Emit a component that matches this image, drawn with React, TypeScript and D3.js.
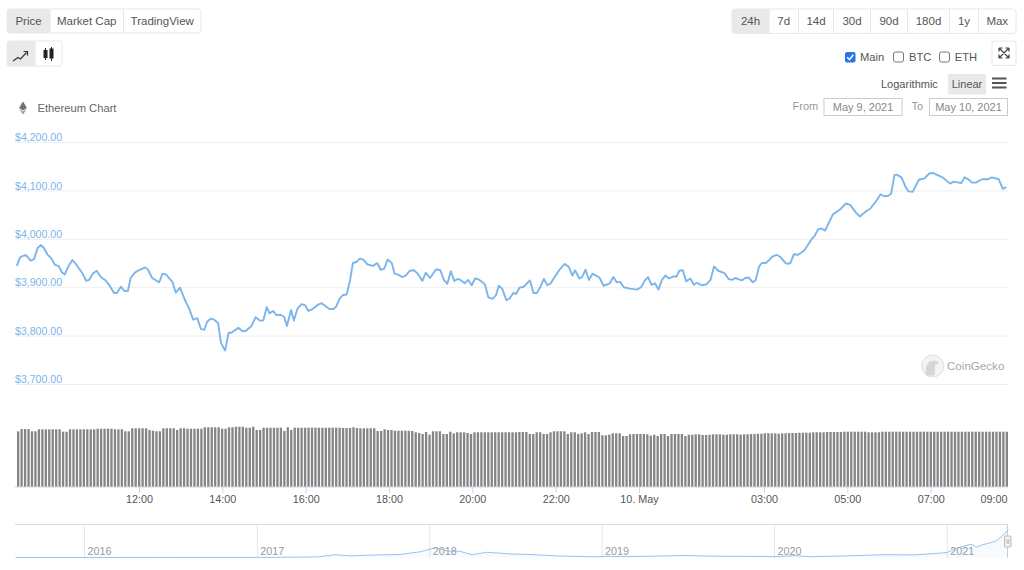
import * as d3 from "d3";
import { useEffect, useRef } from "react";

// minutes after midnight, May 9 (UTC so the sandbox timezone does not matter)
const priceMinutes = [
  544, 549, 555, 558, 564, 569, 574, 579, 583, 588, 594, 599, 604, 609, 613, 618, 624, 629, 638, 644, 648, 654, 659, 665, 671, 676, 684, 688, 694, 699,
  704, 708, 714, 721, 729, 733, 739, 749, 754, 759, 768, 773, 779, 786, 793, 798, 804, 809, 814, 818, 823, 828, 834, 838, 844, 849, 853, 863, 869, 874,
  882, 888, 894, 899, 904, 908, 913, 918, 924, 929, 933, 939, 943, 948, 954, 959, 964, 969, 978, 983, 994, 1000, 1004, 1009, 1014, 1019, 1024, 1028, 1033, 1038,
  1043, 1049, 1057, 1063, 1068, 1073, 1078, 1084, 1088, 1093, 1099, 1104, 1110, 1116, 1122, 1128, 1133, 1139, 1148, 1154, 1159, 1164, 1169, 1174, 1179, 1184, 1189, 1194, 1199, 1204,
  1208, 1213, 1218, 1223, 1229, 1234, 1238, 1243, 1249, 1254, 1259, 1263, 1268, 1274, 1283, 1288, 1293, 1298, 1303, 1308, 1313, 1319, 1326, 1333, 1339, 1344, 1348, 1354, 1358, 1363,
  1368, 1373, 1383, 1389, 1398, 1403, 1408, 1413, 1418, 1427, 1437, 1443, 1448, 1453, 1458, 1463, 1468, 1473, 1478, 1483, 1489, 1494, 1498, 1503, 1508, 1514, 1519, 1523, 1531, 1537,
  1543, 1548, 1554, 1563, 1569, 1574, 1579, 1588, 1593, 1598, 1604, 1608, 1613, 1617, 1623, 1628, 1632, 1638, 1643, 1651, 1654, 1658, 1663, 1669, 1678, 1689, 1693, 1698, 1703, 1708,
  1719, 1729, 1738, 1744, 1753, 1758, 1768, 1773, 1781, 1788, 1793, 1799, 1803, 1808, 1812, 1818, 1824, 1828, 1834, 1843, 1851, 1858, 1863, 1877, 1888, 1893, 1904, 1909, 1913, 1920,
  1925, 1934, 1942, 1948, 1958, 1964, 1969,
];
const prices = [
  3944, 3962, 3966, 3965, 3955, 3958, 3981, 3987, 3981, 3968, 3959, 3946, 3944, 3931, 3926, 3942, 3956, 3948, 3930, 3913, 3915, 3929, 3934, 3921, 3915, 3907, 3888, 3888, 3901, 3892,
  3892, 3919, 3930, 3936, 3941, 3936, 3919, 3910, 3928, 3926, 3911, 3889, 3899, 3874, 3853, 3833, 3836, 3814, 3812, 3828, 3835, 3833, 3826, 3785, 3769, 3806, 3806, 3816, 3809, 3810,
  3820, 3838, 3831, 3831, 3859, 3846, 3851, 3842, 3843, 3839, 3820, 3853, 3831, 3855, 3865, 3863, 3851, 3854, 3864, 3867, 3855, 3855, 3860, 3877, 3884, 3885, 3915, 3950, 3952, 3959,
  3957, 3947, 3944, 3950, 3936, 3938, 3957, 3950, 3928, 3926, 3921, 3924, 3934, 3935, 3927, 3913, 3930, 3919, 3937, 3935, 3915, 3907, 3933, 3913, 3917, 3914, 3908, 3915, 3904, 3918,
  3917, 3912, 3906, 3879, 3876, 3883, 3903, 3897, 3873, 3877, 3888, 3886, 3899, 3901, 3914, 3888, 3888, 3901, 3917, 3904, 3908, 3922, 3937, 3948, 3942, 3924, 3935, 3918, 3921, 3936,
  3915, 3928, 3920, 3903, 3908, 3921, 3910, 3911, 3900, 3897, 3895, 3900, 3913, 3921, 3905, 3908, 3895, 3915, 3924, 3918, 3922, 3922, 3934, 3935, 3912, 3918, 3905, 3909, 3904, 3906,
  3915, 3943, 3934, 3929, 3917, 3915, 3919, 3914, 3919, 3920, 3910, 3915, 3943, 3950, 3950, 3957, 3963, 3967, 3963, 3950, 3948, 3950, 3968, 3967, 3976, 4000, 4006, 4020, 4021, 4017,
  4050, 4060, 4073, 4070, 4053, 4046, 4058, 4062, 4077, 4092, 4088, 4089, 4093, 4132, 4132, 4127, 4107, 4098, 4097, 4122, 4125, 4135, 4136, 4127, 4114, 4118, 4115, 4127, 4124, 4116,
  4116, 4123, 4123, 4127, 4123, 4103, 4107,
];
const priceTicks = [4200, 4100, 4000, 3900, 3800, 3700];

// 24h volume per 5 minute sample, $ billions
const volumes = [
  55.7, 58, 58, 58, 55.7, 55.7, 57.7, 57.7, 57.7, 57.7, 57.7, 57.7, 57.7, 55.3, 55.3, 57.7, 57.7, 57.7, 57.7, 57.7, 57.7, 57.7, 57.7, 58.3, 58.3, 58.3, 58.3, 58.3, 57.7, 57.7,
  57.7, 55.7, 55.7, 58.7, 58.7, 58.7, 58.7, 58.7, 57, 56.3, 55.7, 55.7, 58.7, 58.7, 58.7, 58.7, 57, 58.7, 58.7, 58.3, 58.3, 58.3, 58.3, 58.3, 59.7, 59.7, 59.7, 59.7, 59.7, 58.3,
  58.3, 59.7, 59.7, 60.3, 60.3, 60.3, 59.3, 59.3, 60.3, 57, 57, 59.3, 59.3, 59.3, 59.3, 59.3, 59.3, 56, 59.7, 57, 59.3, 59.3, 59.3, 59.3, 59.3, 59.3, 59.3, 59.3, 59.3, 59.3,
  59.3, 59.3, 59.3, 59.3, 59, 59,
  59, 59.7, 59, 58.7, 58.7, 58.7, 58.7, 58.7, 56, 56, 57.7, 57, 57, 56.3, 56.3, 56.3, 56.3, 56.3, 56, 54.7, 54, 53, 55, 52.3, 55.7, 55.7, 55.7, 53, 53, 55.3,
  53.7, 54.7, 54.7, 54.7, 54, 53, 54.7, 54.7, 54.7, 54.7, 54.7, 54.7, 54.7, 54.7, 54.7, 54.7, 54.7, 54.7, 54.7, 55, 55, 55, 53, 53, 54.7, 54.7, 53, 53, 54.7, 55.7,
  55.7, 55.7, 55.7, 53, 54.7, 54.7, 53, 53.7, 54.7, 53, 55, 55, 55, 51.7, 51.7, 52.3, 53.7, 53.7, 53.7, 51, 51, 52.7, 53, 53, 53, 53, 52.7, 51.3, 52.3, 51,
  53, 53, 51, 53, 53, 53, 53, 51,
  52.3, 52.3, 52.7, 52.7, 52, 52, 52.3, 52.7, 52.7, 52.7, 52.3, 52.3, 52.7, 52.7, 52.7, 52.3, 52.7, 52.7, 53, 53, 53.3, 53.3, 53.7, 53.7, 53.7, 53.7, 53.3, 53.7, 53.7, 54,
  54, 54, 54.3, 54.3, 54.3, 54.3, 54.7, 54.7, 54.7, 54.7, 55, 55, 55, 55, 55, 55.3, 55.3, 55.3, 55.3, 55.3, 55.3, 55.3, 54.7, 54.7, 54.7, 54.7, 55.3, 55.3, 55.3, 55.3,
  55.3, 55.3, 55.3, 55.3, 55.3, 55.3, 55.3, 55.3, 55.3, 55.3, 55.3, 55.3, 55.3, 55.3, 55.3, 55.3, 55.3, 55.3, 55.3, 55.3, 55.3, 55.3, 55.3, 55.3, 55.3, 55.3, 55.3, 55.3, 55.3, 55.3,
  55.3, 55.3, 55.3,
];

const timeTickHours = [12, 14, 16, 18, 20, 22, 24, 27, 29, 31, 33];
const timeTickLabels = ["12:00", "14:00", "16:00", "18:00", "20:00", "22:00", "10. May", "03:00", "05:00", "07:00", "09:00"];

// navigator: whole price history
const historyDates = [
  "2015-08-08", "2016-01-01", "2016-06-15", "2017-01-01", "2017-03-15", "2017-05-10", "2017-06-15", "2017-07-15", "2017-09-01", "2017-11-01", "2017-12-10", "2018-01-13",
  "2018-02-10", "2018-03-05", "2018-04-01", "2018-05-01", "2018-06-25", "2018-08-01", "2018-10-01", "2018-12-15", "2019-01-01", "2019-04-01", "2019-06-25", "2019-08-15",
  "2020-01-01", "2020-02-15", "2020-03-15", "2020-05-15", "2020-08-20", "2020-10-25", "2020-12-20", "2021-01-01", "2021-01-20", "2021-02-20", "2021-03-05", "2021-03-15",
  "2021-04-01", "2021-04-15", "2021-05-01", "2021-05-10",
];
const historyPrices = [
  1, 1, 15, 10, 40, 90, 400, 230, 350, 450, 800, 1400, 900, 900, 400, 750, 500, 430, 220, 100, 140, 160, 300, 200, 130, 260, 120, 200, 400, 380, 650, 740, 1350, 1900, 1500, 1800,
  2100, 2400, 3300, 4100,
];
const historyYears = [2016, 2017, 2018, 2019, 2020, 2021];

const chartTabs = ["Price", "Market Cap", "TradingView"];
const rangeTabs = ["24h", "7d", "14d", "30d", "90d", "180d", "1y", "Max"];
const compareBoxes = ["Main", "BTC", "ETH"];

const FONT = "'Liberation Sans', Arial, sans-serif";
const minuteDate = (m: number) => new Date(Date.UTC(2021, 4, 9, 0, m));

function Tabs({ labels, edges, y, h, size = 11.5 }: { labels: string[]; edges: number[]; y: number; h: number; size?: number }) {
  return (
    <g fontSize={size} fill="#555" textAnchor="middle">
      <rect x={edges[0]} y={y} width={edges[edges.length - 1] - edges[0]} height={h} rx={3} fill="#fff" stroke="#e8e8e8" />
      <rect x={edges[0]} y={y} width={edges[1] - edges[0]} height={h} rx={2} fill="#e9e9e9" />
      {edges.slice(1, -1).map((e) => (
        <line key={e} x1={e} x2={e} y1={y} y2={y + h} stroke="#e8e8e8" />
      ))}
      {labels.map((l, i) => (
        <text key={l} x={(edges[i] + edges[i + 1]) / 2} y={y + h / 2 + 4}>
          {l}
        </text>
      ))}
    </g>
  );
}

export default function App() {
  const ref = useRef<SVGGElement | null>(null);

  useEffect(() => {
    const g = d3.select(ref.current);
    g.selectAll("*").remove();

    const left = 15;
    const right = 1008;

    // price panel
    const x = d3
      .scaleUtc()
      .domain([minuteDate(720), minuteDate(1440)])
      .range([139, 639]);
    const y = d3.scaleLinear().domain([3700, 4200]).range([384, 142]);

    const yAxis = g
      .append("g")
      .attr("transform", `translate(${left},0)`)
      .call(
        d3
          .axisLeft(y)
          .tickValues(priceTicks)
          .tickSize(-(right - left))
          .tickFormat((d) => d3.format("$,.2f")(d as number)),
      );
    yAxis.select(".domain").remove();
    yAxis.selectAll("line").attr("stroke", "#eeeeee");
    yAxis
      .selectAll("text")
      .attr("x", 0)
      .attr("dy", "-0.12em")
      .attr("text-anchor", "start")
      .attr("fill", "#7cb5ec")
      .attr("font-size", 10.6)
      .attr("font-family", FONT);

    const line = d3
      .line<number>()
      .x((_, i) => x(minuteDate(priceMinutes[i])))
      .y((d) => y(d));
    g.append("path")
      .datum(prices)
      .attr("d", line)
      .attr("fill", "none")
      .attr("stroke", "#7cb5ec")
      .attr("stroke-width", 1.9)
      .attr("stroke-linejoin", "round");

    // volume bars
    const vx = d3
      .scaleBand<number>()
      .domain(d3.range(volumes.length))
      .range([17, right])
      .paddingInner(0.33);
    const vy = d3.scaleLinear().domain([0, 60]).range([487, 427]);
    g.append("g")
      .selectAll("rect")
      .data(volumes)
      .enter()
      .append("rect")
      .attr("x", (_, i) => vx(i) as number)
      .attr("y", (d) => vy(d))
      .attr("width", vx.bandwidth())
      .attr("height", (d) => vy(0) - vy(d))
      .attr("fill", "#858585");

    g.append("line")
      .attr("x1", left)
      .attr("x2", right)
      .attr("y1", 487)
      .attr("y2", 487)
      .attr("stroke", "#ccd6eb");

    const xAxis = g
      .append("g")
      .attr("transform", "translate(0,487)")
      .call(
        d3
          .axisBottom(x)
          .tickValues(timeTickHours.map((h) => minuteDate(h * 60)))
          .tickSize(6)
          .tickFormat((_, i) => timeTickLabels[i]),
      );
    xAxis.select(".domain").remove();
    xAxis.selectAll("line").attr("stroke", "#ccd6eb");
    xAxis
      .selectAll("text")
      .attr("y", 8)
      .attr("fill", "#555")
      .attr("font-size", 10.8)
      .attr("font-family", FONT);
    // last tick falls past the plot, its label gets pushed back inside
    const lastTick = xAxis.selectAll(".tick").filter((_, i) => i === timeTickHours.length - 1);
    lastTick.select("line").remove();
    lastTick.select("text").attr("dx", -20.5);

    // navigator
    const nx = d3
      .scaleUtc()
      .domain([new Date(Date.UTC(2016, 0, 1)), new Date(Date.UTC(2021, 0, 1))])
      .range([84.5, 947.3]);
    const ny = d3.scaleLinear().domain([0, 4100]).range([557.5, 529]);
    const parse = d3.utcParse("%Y-%m-%d");
    const history = historyDates.map((d) => parse(d) as Date);

    g.append("line")
      .attr("x1", left)
      .attr("x2", right)
      .attr("y1", 524.5)
      .attr("y2", 524.5)
      .attr("stroke", "#dcdcdc");

    const yearGroup = g
      .append("g")
      .selectAll("g")
      .data(historyYears)
      .enter()
      .append("g")
      .attr("transform", (d) => `translate(${nx(new Date(Date.UTC(d, 0, 1)))},0)`);
    yearGroup.append("line").attr("y1", 525).attr("y2", 558).attr("stroke", "#e6e6e6");
    yearGroup
      .append("text")
      .attr("x", 3)
      .attr("y", 554.5)
      .attr("fill", "#999")
      .attr("font-size", 10.8)
      .attr("font-family", FONT)
      .text((d) => d);

    const area = d3
      .area<number>()
      .x((_, i) => nx(history[i]))
      .y0(ny(0))
      .y1((d) => ny(d));
    g.append("path").datum(historyPrices).attr("d", area).attr("fill", "#7cb5ec").attr("fill-opacity", 0.06);
    g.append("path")
      .datum(historyPrices)
      .attr("d", area.lineY1())
      .attr("fill", "none")
      .attr("stroke", "#7cb5ec")
      .attr("stroke-width", 0.8);

    // right hand handle of the navigator
    g.append("line").attr("x1", 1007.5).attr("x2", 1007.5).attr("y1", 525).attr("y2", 558).attr("stroke", "#cfcfcf");
    g.append("rect")
      .attr("x", 1004.5)
      .attr("y", 536)
      .attr("width", 6.5)
      .attr("height", 11)
      .attr("rx", 1)
      .attr("fill", "#f2f2f2")
      .attr("stroke", "#bbb");
    g.append("path").attr("d", "M1007 539v5M1008.8 539v5").attr("stroke", "#bbb").attr("fill", "none");
  }, []);

  return (
    <svg width={1024} height={570} style={{ position: "absolute", left: 0, top: 0 }} fontFamily={FONT}>
      <rect width={1024} height={570} fill="#fff" />

      <Tabs labels={chartTabs} edges={[7, 50, 123.5, 201]} y={9} h={24} />
      <Tabs labels={["", ""]} edges={[7, 35, 62]} y={41} h={25} />
      <path d="M13 61l5-3.5 2.500 1.500 6-6.500M23.500 51.500h4v4" fill="none" stroke="#333" strokeWidth={1.2} />
      <g fill="#222">
        <rect x={43.5} y={50} width={4} height={8} />
        <rect x={49.5} y={48.5} width={4} height={10} />
        <path d="M45.500 48v12M51.500 47v14" stroke="#222" />
      </g>

      <path d="M23 101.500l4 6.500-4 2.500-4-2.500z" fill="#6f6f78" />
      <path d="M19.200 109l3.800 2.400 3.800-2.400-3.800 5.500z" fill="#9a9aa2" />
      <text x={37.5} y={112} fontSize={11.2} fill="#666">
        Ethereum Chart
      </text>

      <Tabs labels={rangeTabs} edges={[732, 769, 798.5, 833.5, 870.5, 907.5, 949.5, 978.5, 1016]} y={9} h={24.5} />

      <rect x={992} y={41} width={24} height={24.5} rx={2} fill="#fff" stroke="#e8e8e8" />
      <path
        d="M999.500 48.500l9 9M1008.500 48.500l-9 9M999 48h3.500M999 48v3.500M1009 48h-3.500M1009 48v3.500M999 58h3.500M999 58v-3.500M1009 58h-3.500M1009 58v-3.500"
        stroke="#444"
        strokeWidth={1.2}
        fill="none"
      />

      <rect x={845} y={52} width={10.5} height={10.5} rx={2} fill="#2a75e6" />
      <path d="M847.200 57.200l2.300 2.500 3.800-5" fill="none" stroke="#fff" strokeWidth={1.5} />
      <rect x={893.5} y={52} width={10} height={10} rx={2} fill="#fff" stroke="#777" />
      <rect x={939.5} y={52} width={10} height={10} rx={2} fill="#fff" stroke="#777" />
      <g fontSize={11.2} fill="#555">
        <text x={860} y={61}>
          {compareBoxes[0]}
        </text>
        <text x={909} y={61}>
          {compareBoxes[1]}
        </text>
        <text x={954.7} y={61}>
          {compareBoxes[2]}
        </text>
      </g>

      <text x={881} y={88} fontSize={11} fill="#555">
        Logarithmic
      </text>
      <rect x={948} y={74} width={38} height={20.5} fill="#e9e9e9" rx={1} />
      <text x={967} y={88} fontSize={11} fill="#555" textAnchor="middle">
        Linear
      </text>
      <path d="M992 78.500h14.500M992 83h14.500M992 87.500h14.500" stroke="#555" strokeWidth={1.8} />

      <text x={792.5} y={110} fontSize={11} fill="#999">
        From
      </text>
      <rect x={824} y={98.5} width={78} height={17} fill="#fff" stroke="#ccc" />
      <text x={863} y={110.5} fontSize={11} fill="#888" textAnchor="middle">
        May 9, 2021
      </text>
      <text x={911.5} y={110} fontSize={11} fill="#999">
        To
      </text>
      <rect x={929.5} y={98.5} width={78} height={17} fill="#fff" stroke="#ccc" />
      <text x={968.5} y={110.5} fontSize={11} fill="#888" textAnchor="middle">
        May 10, 2021
      </text>

      <g ref={ref} />

      <circle cx={932.7} cy={366} r={11} fill="#f4f4f4" stroke="#dedede" />
      <path d="M926 375c-1-5 0-11 4-13.500 3-1.500 7-1 8.500 1 .5 1-1 2-3 2-1.500 2 0 6-1 10.500-3 1-6 1-8.500 0z" fill="#d6d6d6" />
      <text x={947} y={370} fontSize={11.6} fill="#a8a8a8">
        CoinGecko
      </text>
    </svg>
  );
}
